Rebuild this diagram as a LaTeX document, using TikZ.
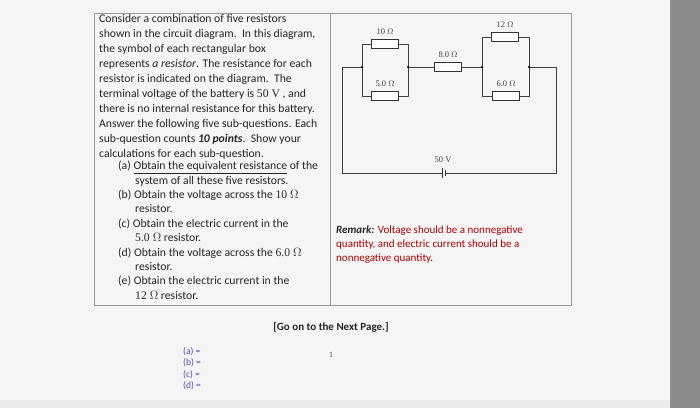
\documentclass[tikz,border=0pt]{standalone}
\usepackage{fontspec}
\usetikzlibrary{positioning}
\setmainfont{Carlito}
\newfontfamily\serifc{Liberation Serif}
\begin{document}
\begin{tikzpicture}[x=1pt,y=-1pt,
  res/.style={draw=black!80,fill=white,line width=1pt,minimum width=27pt,minimum height=9pt,inner sep=0pt},
  wire/.style={draw=black!75,line width=0.9pt},
  lab/.style={font=\serifc\fontsize{8.5}{9}\selectfont,text=black!75},
  txt/.style={anchor=north west,align=left,inner sep=0pt,font=\fontsize{11.7}{15}\selectfont,text=black!85},
  dot/.style={circle,fill=black,inner sep=0pt,minimum size=2.5pt}]
\fill[black!8] (0,0) rectangle (700,408);
\fill[black!45] (670,0) rectangle (700,408);
\fill[black!4] (0,0) rectangle (670,400);
\draw[black!40,line width=0.8pt] (94,13) rectangle (571,305);
\draw[black!40,line width=0.8pt] (330,13) -- (330,305);
% text
\node[txt] (t1) at (99,14) {Consider a combination of five resistors\\
shown in the circuit diagram.\ \ In this diagram,\\
the symbol of each rectangular box\\
represents \textit{a resistor}. The resistance for each\\
resistor is indicated on the diagram.\ \ The\\
terminal voltage of the battery is {\serifc 50 V} , and\\
there is no internal resistance for this battery.\\
Answer the following five sub-questions. Each\\
sub-question counts \textbf{\textit{10 points}}.\ \ Show your\\
calculations for each sub-question.};
\node[txt,font=\fontsize{11.7}{14.4}\selectfont] (ta) at (118,161) {(a) \underline{Obtain the equivalent resistance} of the\\
\hspace*{17pt}system of all these five resistors.\\
(b) Obtain the voltage across the {\serifc 10 $\Omega$}\\
\hspace*{17pt}resistor.\\
(c) Obtain the electric current in the\\
\hspace*{17pt}{\serifc 5.0 $\Omega$} resistor.\\
(d) Obtain the voltage across the {\serifc 6.0 $\Omega$}\\
\hspace*{17pt}resistor.\\
(e) Obtain the electric current in the\\
\hspace*{17pt}{\serifc 12 $\Omega$} resistor.};
\node[txt,font=\fontsize{11}{14}\selectfont] (rm) at (336,226) {\textbf{\textit{Remark:}} \textcolor{red!65!black}{Voltage should be a nonnegative}\\
\textcolor{red!65!black}{quantity, and electric current should be a}\\
\textcolor{red!65!black}{nonnegative quantity.}};
\node[font=\fontsize{11}{12}\selectfont\bfseries,text=black!85] (go) at (331,327) {[Go on to the Next Page.]};
\node[font=\serifc\fontsize{8}{9}\selectfont,text=black!70] (pg) at (331,355) {1};
\node[anchor=north west,align=left,inner sep=0pt,font=\fontsize{9.5}{11.5}\selectfont,text=blue!55!black!70] (ans) at (183,347) {(a) =\\(b) =\\(c) =\\(d) =};
% circuit
\coordinate (A) at (362,67); \coordinate (B) at (408,67);
\coordinate (C) at (482,67); \coordinate (D) at (529,67);
\node[res] (r10) at (385,44) {};
\node[res] (r5) at (385,96) {};
\node[res] (r8) at (448,67) {};
\node[res] (r12) at (505,37) {};
\node[res] (r6) at (506,96) {};
\node[lab,above=0.5pt of r10] {10 $\Omega$};
\node[lab,above=0.5pt of r5] {5.0 $\Omega$};
\node[lab,above=0.5pt of r8] {8.0 $\Omega$};
\node[lab,above=0.5pt of r12] {12 $\Omega$};
\node[lab,above=0.5pt of r6] {6.0 $\Omega$};
\coordinate (bl) at (442,173); \coordinate (br) at (445,173);
\draw[wire] (A) |- (r10.west) (r10.east) -| (B);
\draw[wire] (A) |- (r5.west) (r5.east) -| (B);
\draw[wire] (B) -- (r8.west) (r8.east) -- (C);
\draw[wire] (C) |- (r12.west) (r12.east) -| (D);
\draw[wire] (C) |- (r6.west) (r6.east) -| (D);
\draw[wire] (A) -- (342,67) |- (bl);
\draw[wire] (D) -- (556,67) |- (br);
\draw[black!80,line width=0.9pt] (bl) ++(0,-5) -- ++(0,10);
\draw[black!80,line width=0.9pt] (br) ++(0,-3) -- ++(0,6);
\node[lab] (bat) at (443,160) {50 V};
\foreach \p in {A,B,C,D} \node[dot] at (\p) {};
\end{tikzpicture}
\end{document}
